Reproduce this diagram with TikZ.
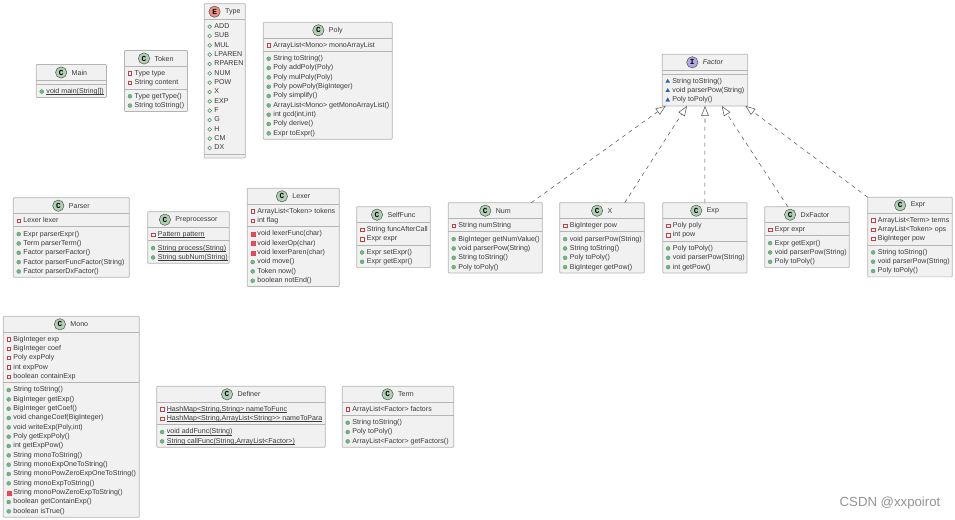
\documentclass[tikz,border=0pt]{standalone}
\usepackage{fontspec}
\setmainfont{Liberation Sans}
\setmonofont{Liberation Mono}
\usetikzlibrary{arrows.meta,calc,shapes.geometric}
\definecolor{boxfill}{HTML}{F1F1F1}
\definecolor{boxline}{HTML}{B4B4B4}
\definecolor{txt}{HTML}{3A3A3A}
\newcount\rowno
\newsavebox\ulbox
\newcommand\ulin[1]{\sbox\ulbox{#1}\rlap{\usebox\ulbox}\rule[-0.75pt]{\wd\ulbox}{0.3pt}}
\tikzset{
  x=0.75pt,y=-0.75pt,
  umlbox/.style={draw=boxline,fill=boxfill,line width=0.55pt,rounded corners=0.6pt,anchor=north west,inner sep=0pt,outer sep=0pt},
  umlsep/.style={draw=boxline,line width=0.55pt},
  rowtext/.style={anchor=west,inner sep=0pt,text=txt,font=\fontsize{5.3pt}{6pt}\selectfont,text height=4pt,text depth=1.1pt},
  headtext/.style={inner sep=0pt,text=txt,font=\fontsize{5.3pt}{6pt}\selectfont},
  iconC/.style={circle,draw=black!70,line width=0.35pt,fill=#1,minimum size=8.5pt,inner sep=0pt,text=black,font=\fontsize{5.8pt}{6pt}\ttfamily\bfseries},
  mprivf/.style={rectangle,draw={rgb,255:red,200;green,60;blue,70},fill=white,line width=0.4pt,minimum size=2.7pt,inner sep=0pt},
  mprivm/.style={rectangle,draw={rgb,255:red,225;green,70;blue,85},fill={rgb,255:red,235;green,75;blue,90},line width=0.2pt,minimum size=3pt,inner sep=0pt},
  mpub/.style={circle,draw={rgb,255:red,70;green,150;blue,105},fill={rgb,255:red,120;green,180;blue,130},line width=0.2pt,minimum size=3pt,inner sep=0pt},
  menum/.style={circle,draw={rgb,255:red,60;green,140;blue,95},fill=white,line width=0.4pt,minimum size=2.8pt,inner sep=0pt},
  mabs/.style={regular polygon,regular polygon sides=3,draw={rgb,255:red,40;green,105;blue,165},fill={rgb,255:red,40;green,105;blue,165},line width=0.1pt,minimum size=3.6pt,inner sep=0pt},
  impl/.style={draw=black!65,line width=0.4pt,dash pattern=on 3pt off 3pt,-{Triangle[open,length=7.5pt,width=5.6pt,fill=white]}},
  wm/.style={inner sep=0pt,text=black!42,font=\fontsize{9.9pt}{11pt}\selectfont},
}
% id, icon letter, icon colour, x1, x2, top, nattrs, nmeths, name
\newcommand\umlclass[9]{%
  \def\curid{#1}\edef\curx{#4}%
  \pgfmathsetmacro\boxh{16+9.33*#7+3.8+9.33*#8+3.8}%
  \node[umlbox,minimum width={(#5-#4)*0.75pt},minimum height={\boxh*0.75pt}] (#1) at (#4,#6) {};
  \node[headtext] (#1-name) at ({(#4+#5)/2+8},{#6+8}) {#9};
  \node[iconC=#3] (#1-icon) at ($(#1-name.west)+(-10.3,0)$) {#2};
  \pgfmathsetmacro\sepa{#6+16}%
  \pgfmathsetmacro\sepb{#6+16+9.33*#7+3.8}%
  \draw[umlsep] (#4,\sepa) -- (#5,\sepa);
  \draw[umlsep] (#4,\sepb) -- (#5,\sepb);
  \pgfmathsetmacro\nexta{\sepa+7}\global\let\curay\nexta
  \pgfmathsetmacro\nextm{\sepb+7.3}\global\let\curmy\nextm
  \global\rowno=0
}
\newcommand\rowitem[3]{%
  \global\advance\rowno by 1
  \node[#1] (\curid-m\the\rowno) at ({\curx+5.4},#3) {};
  \node[rowtext] (\curid-t\the\rowno) at ({\curx+9.9},#3) {#2};
}
\newcommand\A[2]{\rowitem{#1}{#2}{\curay}\pgfmathsetmacro\nexta{\curay+9.33}\global\let\curay\nexta}
\newcommand\M[2]{\rowitem{#1}{#2}{\curmy}\pgfmathsetmacro\nextm{\curmy+9.33}\global\let\curmy\nextm}
\definecolor{cgreen}{HTML}{ADD1B2}
\definecolor{cpurple}{HTML}{B4A7E5}
\definecolor{cred}{HTML}{EB937F}
\begin{document}
\begin{tikzpicture}
\useasboundingbox (0,0) rectangle (955,520);
\fill[white] (0,0) rectangle (955,520);

\umlclass{main}{C}{cgreen}{36.3}{106.5}{64.5}{0}{1}{Main}
\M{mpub}{\ulin{void main(String[])}}

\umlclass{token}{C}{cgreen}{124.5}{187.5}{50.5}{2}{2}{Token}
\A{mprivf}{Type type}
\A{mprivf}{String content}
\M{mpub}{Type getType()}
\M{mpub}{String toString()}

\umlclass{type}{E}{cred}{204.3}{245.3}{3.7}{14}{0}{Type}
\A{menum}{ADD}
\A{menum}{SUB}
\A{menum}{MUL}
\A{menum}{LPAREN}
\A{menum}{RPAREN}
\A{menum}{NUM}
\A{menum}{POW}
\A{menum}{X}
\A{menum}{EXP}
\A{menum}{F}
\A{menum}{G}
\A{menum}{H}
\A{menum}{CM}
\A{menum}{DX}

\umlclass{poly}{C}{cgreen}{263.3}{392.3}{22.3}{1}{9}{Poly}
\A{mprivf}{ArrayList<Mono> monoArrayList}
\M{mpub}{String toString()}
\M{mpub}{Poly addPoly(Poly)}
\M{mpub}{Poly mulPoly(Poly)}
\M{mpub}{Poly powPoly(BigInteger)}
\M{mpub}{Poly simplify()}
\M{mpub}{ArrayList<Mono> getMonoArrayList()}
\M{mpub}{int gcd(int,int)}
\M{mpub}{Poly derive()}
\M{mpub}{Expr toExpr()}

\umlclass{factor}{I}{cpurple}{662.3}{747.7}{54.3}{0}{3}{\textit{Factor}}
\M{mabs}{String toString()}
\M{mabs}{void parserPow(String)}
\M{mabs}{Poly toPoly()}

\umlclass{parser}{C}{cgreen}{13.3}{129.3}{197.7}{1}{5}{Parser}
\A{mprivf}{Lexer lexer}
\M{mpub}{Expr parserExpr()}
\M{mpub}{Term parserTerm()}
\M{mpub}{Factor parserFactor()}
\M{mpub}{Factor parserFuncFactor(String)}
\M{mpub}{Factor parserDxFactor()}

\umlclass{prep}{C}{cgreen}{147.7}{229.3}{211.7}{1}{2}{Preprocessor}
\A{mprivf}{\ulin{Pattern pattern}}
\M{mpub}{\ulin{String process(String)}}
\M{mpub}{\ulin{String subNum(String)}}

\umlclass{lexer}{C}{cgreen}{247.3}{339.3}{188.3}{2}{6}{Lexer}
\A{mprivf}{ArrayList<Token> tokens}
\A{mprivf}{int flag}
\M{mprivm}{void lexerFunc(char)}
\M{mprivm}{void lexerOp(char)}
\M{mprivm}{void lexerParen(char)}
\M{mpub}{void move()}
\M{mpub}{Token now()}
\M{mpub}{boolean notEnd()}

\umlclass{selffunc}{C}{cgreen}{356.7}{430.3}{206.7}{2}{2}{SelfFunc}
\A{mprivf}{String funcAfterCall}
\A{mprivf}{Expr expr}
\M{mpub}{Expr setExpr()}
\M{mpub}{Expr getExpr()}

\umlclass{num}{C}{cgreen}{448.3}{542.3}{202.7}{1}{4}{Num}
\A{mprivf}{String numString}
\M{mpub}{BigInteger getNumValue()}
\M{mpub}{void parserPow(String)}
\M{mpub}{String toString()}
\M{mpub}{Poly toPoly()}

\umlclass{xf}{C}{cgreen}{559.7}{644.3}{202.7}{1}{4}{X}
\A{mprivf}{BigInteger pow}
\M{mpub}{void parserPow(String)}
\M{mpub}{String toString()}
\M{mpub}{Poly toPoly()}
\M{mpub}{BigInteger getPow()}

\umlclass{expf}{C}{cgreen}{662.7}{747}{202.7}{2}{3}{Exp}
\A{mprivf}{Poly poly}
\A{mprivf}{int pow}
\M{mpub}{Poly toPoly()}
\M{mpub}{void parserPow(String)}
\M{mpub}{int getPow()}

\umlclass{dxf}{C}{cgreen}{764.7}{849.3}{206.7}{1}{3}{DxFactor}
\A{mprivf}{Expr expr}
\M{mpub}{Expr getExpr()}
\M{mpub}{void parserPow(String)}
\M{mpub}{Poly toPoly()}

\umlclass{expr}{C}{cgreen}{867.7}{952.3}{197.3}{3}{3}{Expr}
\A{mprivf}{ArrayList<Term> terms}
\A{mprivf}{ArrayList<Token> ops}
\A{mprivf}{BigInteger pow}
\M{mpub}{String toString()}
\M{mpub}{void parserPow(String)}
\M{mpub}{Poly toPoly()}

\umlclass{mono}{C}{cgreen}{3.3}{139.3}{316.3}{5}{14}{Mono}
\A{mprivf}{BigInteger exp}
\A{mprivf}{BigInteger coef}
\A{mprivf}{Poly expPoly}
\A{mprivf}{int expPow}
\A{mprivf}{boolean containExp}
\M{mpub}{String toString()}
\M{mpub}{BigInteger getExp()}
\M{mpub}{BigInteger getCoef()}
\M{mpub}{void changeCoef(BigInteger)}
\M{mpub}{void writeExp(Poly,int)}
\M{mpub}{Poly getExpPoly()}
\M{mpub}{int getExpPow()}
\M{mpub}{String monoToString()}
\M{mpub}{String monoExpOneToString()}
\M{mpub}{String monoPowZeroExpOneToString()}
\M{mpub}{String monoExpToString()}
\M{mprivm}{String monoPowZeroExpToString()}
\M{mpub}{boolean getContainExp()}
\M{mpub}{boolean isTrue()}

\umlclass{definer}{C}{cgreen}{156.7}{325.3}{386.3}{2}{2}{Definer}
\A{mprivf}{\ulin{HashMap<String,String> nameToFunc}}
\A{mprivf}{\ulin{HashMap<String,ArrayList<String>{}> nameToPara}}
\M{mpub}{\ulin{void addFunc(String)}}
\M{mpub}{\ulin{String callFunc(String,ArrayList<Factor>)}}

\umlclass{term}{C}{cgreen}{342.3}{453.7}{386.3}{1}{3}{Term}
\A{mprivf}{ArrayList<Factor> factors}
\M{mpub}{String toString()}
\M{mpub}{Poly toPoly()}
\M{mpub}{ArrayList<Factor> getFactors()}

% realisation arrows
\draw[impl] ($(num.north east)+(-11,0)$) -- ($(factor.south west)+(3.4,0)$);
\draw[impl] ($(xf.north east)+(-19.6,0)$) -- ($(factor.south west)+(24.7,0)$);
\draw[impl] (expf.north) -- (factor.south);
\draw[impl] ($(dxf.north west)+(23.1,0)$) -- ($(factor.south east)+(-26,0)$);
\draw[impl] (expr.north west) -- ($(factor.south east)+(-2.4,0)$);

\node[wm] (watermark) at (890,503) {CSDN @xxpoirot};
\end{tikzpicture}
\end{document}
